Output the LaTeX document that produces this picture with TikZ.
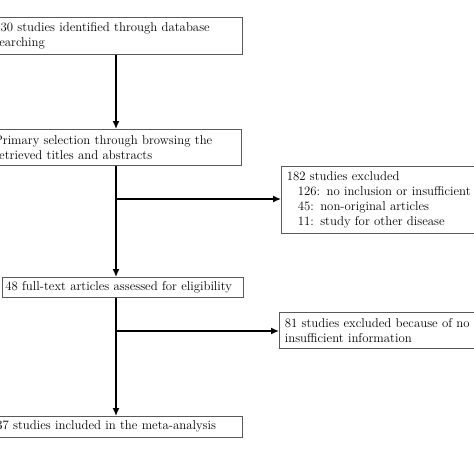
\documentclass[tikz,border=0pt]{standalone}
\usetikzlibrary{positioning}
\usetikzlibrary{arrows.meta}
\tikzstyle{stepbox}=[rectangle,draw=black!65,line width=0.7pt,anchor=north west,align=left,inner xsep=3pt,inner ysep=0pt,font=\fontsize{12.8}{15}\selectfont]
\tikzstyle{sidebox}=[stepbox,inner xsep=5.5pt]
\tikzstyle{edge} = [draw,line width=1.4pt,-{Latex[length=8pt,width=7pt]}]
\tikzstyle{undirectededge} = [draw,line width=1.4pt]

\begin{document}
\begin{tikzpicture}[x=1pt,y=-1pt]

  \path[use as bounding box,clip] (0,0) rectangle (474,474);

  % main column
  \foreach \name/\x/\y/\tw/\h/\txt in {
      ident/-9/17/245/37/{230 studies identified through database\\searching},
      prim/-9/129/244/36/{Primary selection through browsing the\\retrieved titles and abstracts},
      full/2/277/235/20/{48 full-text articles assessed for eligibility},
      incl/-7/416/243/21/{37 studies included in the meta-analysis}}
         \node[stepbox, text width=\tw pt, minimum height=\h pt] (\name) at (\x, \y) {\txt};

  % excluded boxes
  \node[sidebox, text width=228pt, minimum height=67pt] (excl1) at (281, 166)
     {182 studies excluded\\
      \hspace*{11pt}126: no inclusion or insufficient\\
      \hspace*{11pt}45: non-original articles\\
      \hspace*{11pt}11: study for other disease};
  \node[sidebox, text width=230pt, minimum height=36pt] (excl2) at (279, 312)
     {81 studies excluded because of no\\insufficient information};

  % spine and branch points
  \coordinate (spine) at (116, 0);
  \coordinate (br1) at (116, 199);
  \coordinate (br2) at (116, 331);

  \foreach \source/\dest in {ident/prim, prim/full, full/incl}
         \path[edge] (\source.south -| spine) -- (\dest.north -| spine);

  \path[edge] (br1) -- (br1 -| excl1.west);
  \path[edge] (br2) -- (br2 -| excl2.west);

\end{tikzpicture}
\end{document}
